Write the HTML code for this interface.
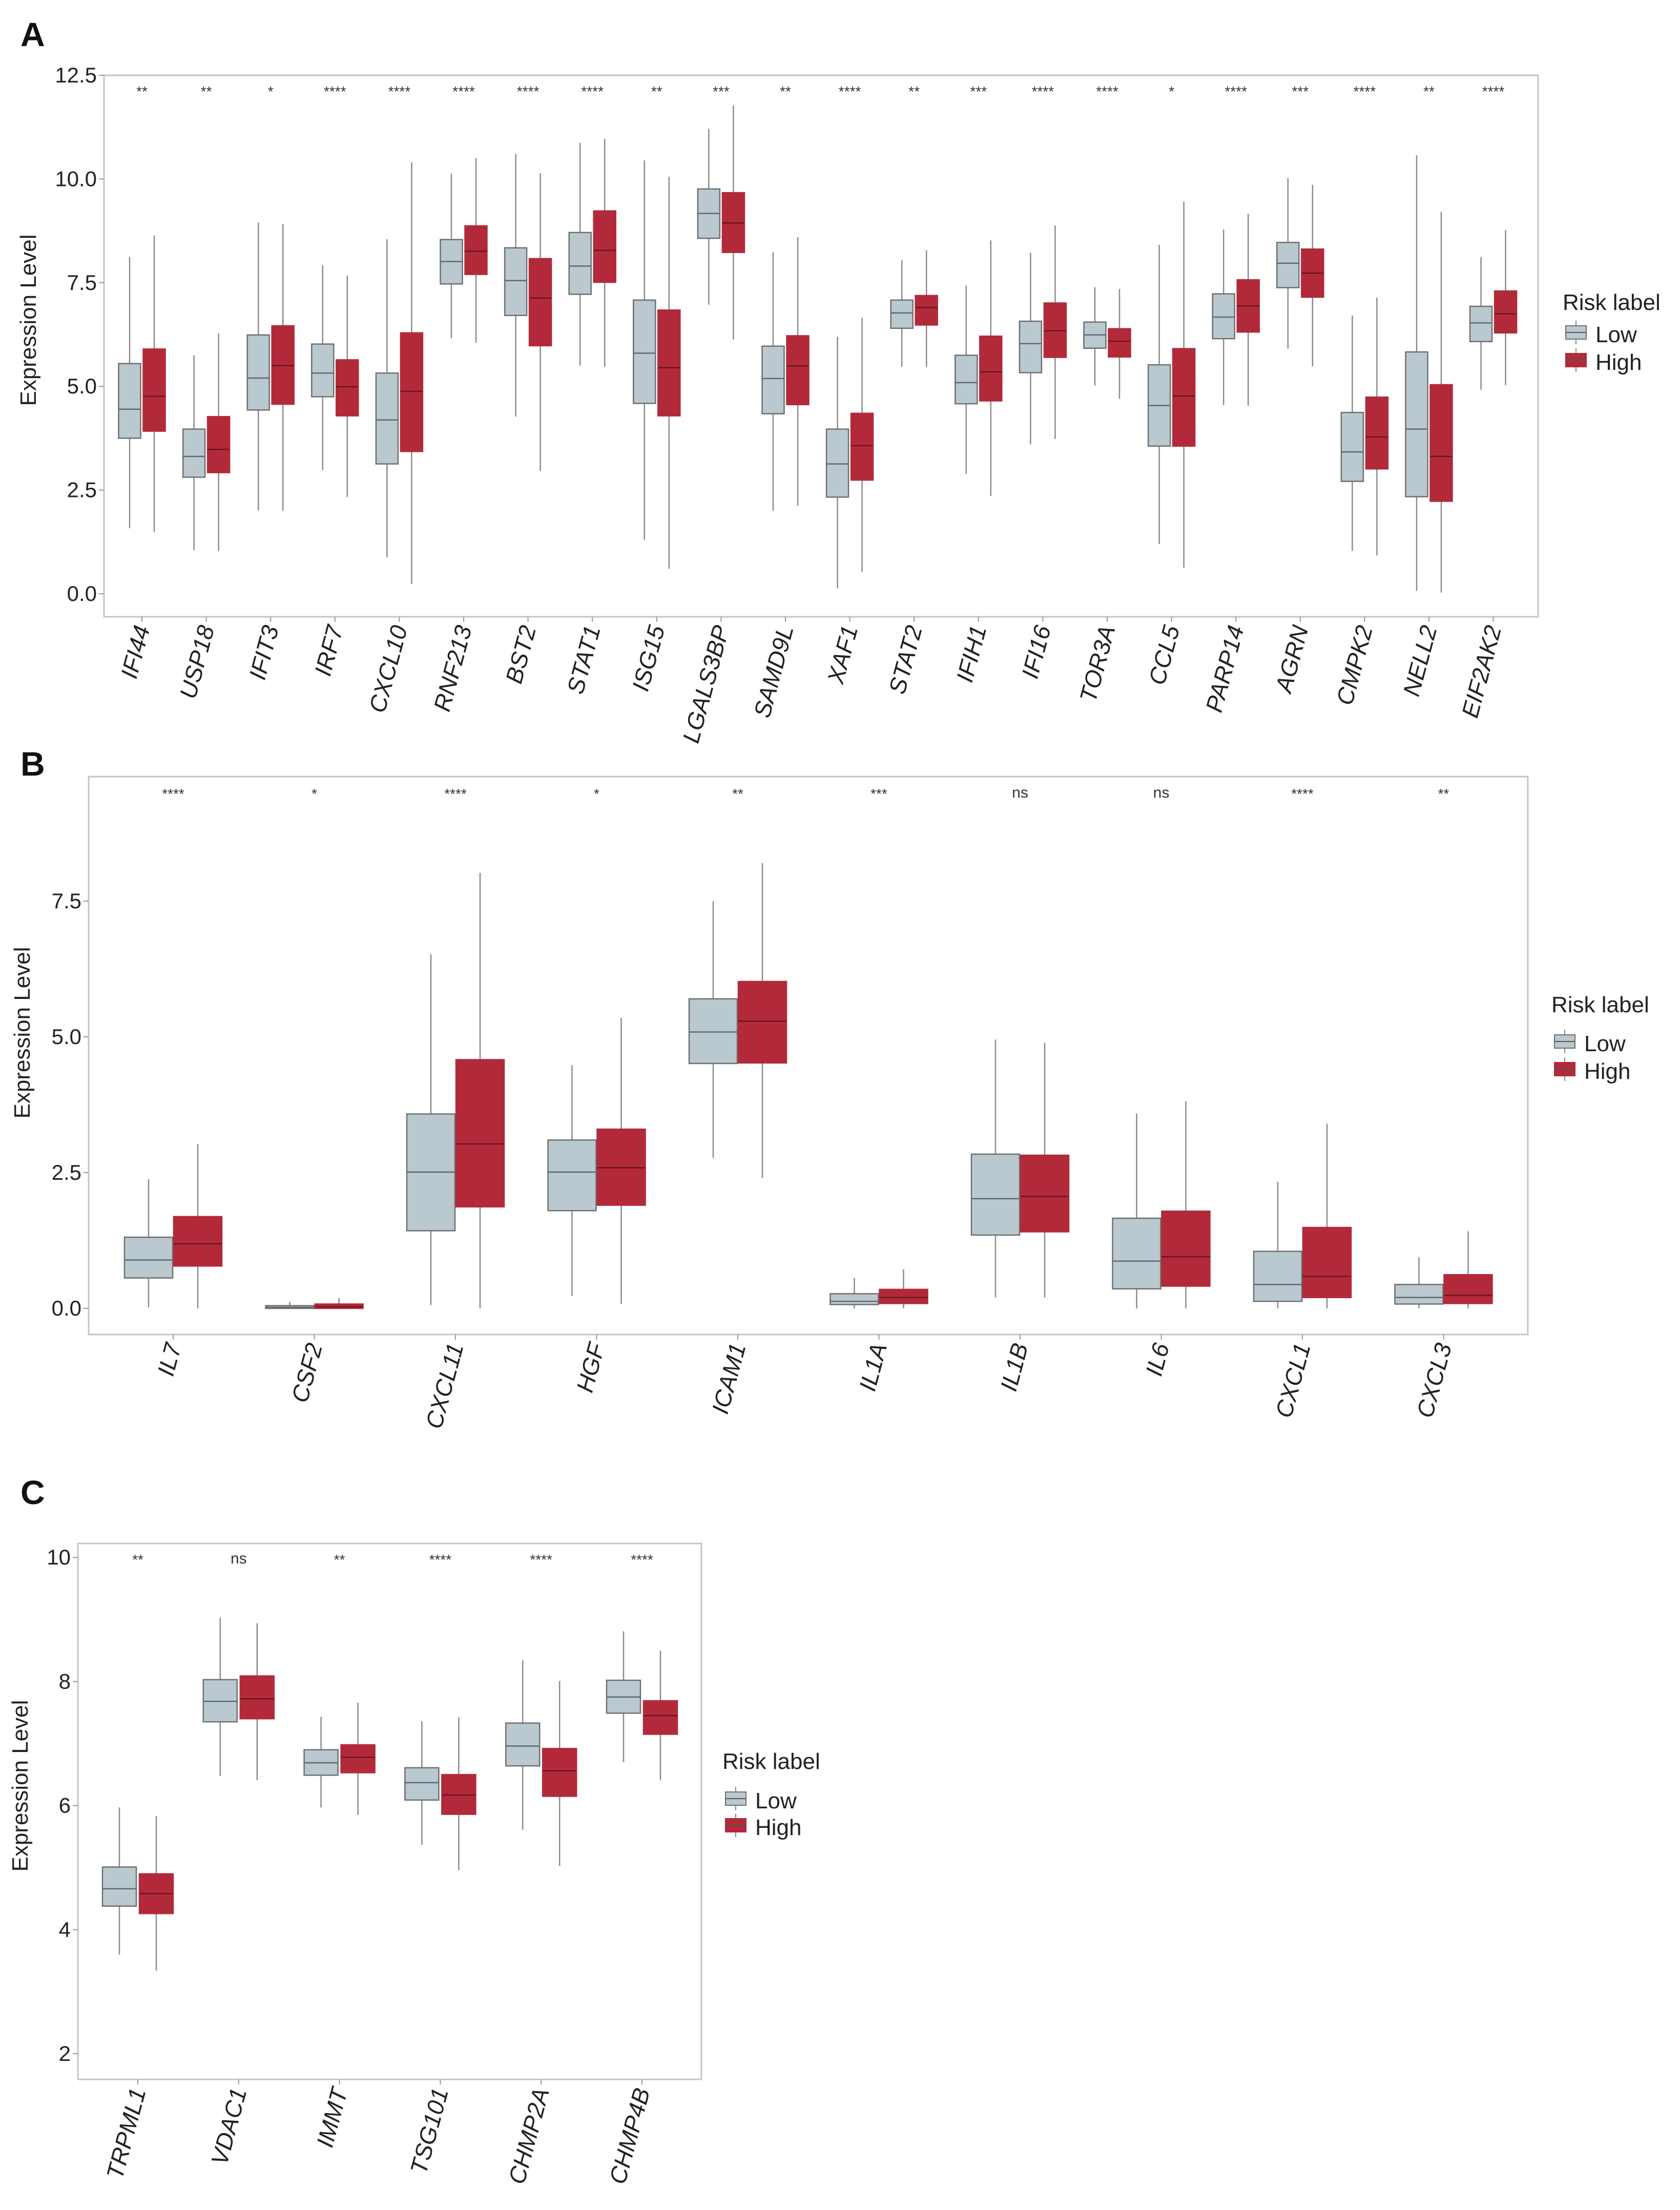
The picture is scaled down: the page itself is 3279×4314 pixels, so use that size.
<!DOCTYPE html>
<html><head><meta charset="utf-8"><style>
html,body{margin:0;padding:0;background:#fff;}
svg{display:block;font-family:"Liberation Sans",Arial,sans-serif;}
</style></head><body>
<svg id="fig" width="3279" height="4314" viewBox="0 0 3279 4314" xmlns="http://www.w3.org/2000/svg"></svg>
<script>
// ---------- Panel A data ----------
const catsA = ["IFI44","USP18","IFIT3","IRF7","CXCL10","RNF213","BST2","STAT1","ISG15","LGALS3BP","SAMD9L","XAF1","STAT2","IFIH1","IFI16","TOR3A","CCL5","PARP14","AGRN","CMPK2","NELL2","EIF2AK2"];
const sigA = ["**","**","*","****","****","****","****","****","**","***","**","****","**","***","****","****","*","****","***","****","**","****"];
// [whiskerLow, q1, median, q3, whiskerHigh]
const lowA = [[1.58,3.75,4.45,5.55,8.12],[1.05,2.81,3.31,3.97,5.75],[2.01,4.43,5.2,6.24,8.95],[2.98,4.75,5.32,6.02,7.92],[0.88,3.13,4.19,5.32,8.55],[6.16,7.47,8.01,8.54,10.13],[4.27,6.71,7.55,8.34,10.6],[5.5,7.22,7.9,8.71,10.87],[1.3,4.59,5.8,7.08,10.45],[6.97,8.57,9.17,9.76,11.21],[2.0,4.34,5.19,5.97,8.23],[0.13,2.33,3.13,3.97,6.2],[5.47,6.4,6.77,7.08,8.04],[2.89,4.58,5.09,5.75,7.43],[3.6,5.33,6.03,6.57,8.22],[5.02,5.92,6.24,6.55,7.39],[1.2,3.56,4.54,5.52,8.41],[4.55,6.15,6.67,7.23,8.78],[5.91,7.38,7.97,8.47,10.02],[1.03,2.71,3.42,4.37,6.71],[0.07,2.34,3.97,5.83,10.57],[4.92,6.08,6.53,6.93,8.12]];
const highA = [[1.49,3.92,4.76,5.9,8.64],[1.03,2.92,3.48,4.27,6.28],[2.0,4.57,5.5,6.46,8.92],[2.33,4.29,4.99,5.64,7.67],[0.24,3.43,4.88,6.29,10.4],[6.05,7.7,8.26,8.87,10.5],[2.96,5.98,7.13,8.08,10.14],[5.47,7.51,8.28,9.23,10.97],[0.6,4.29,5.45,6.84,10.05],[6.13,8.23,8.94,9.67,11.77],[2.12,4.56,5.49,6.22,8.6],[0.53,2.74,3.57,4.35,6.65],[5.47,6.48,6.9,7.19,8.28],[2.36,4.65,5.35,6.21,8.52],[3.73,5.7,6.34,7.01,8.88],[4.7,5.71,6.09,6.39,7.35],[0.63,3.56,4.77,5.91,9.45],[4.53,6.31,6.94,7.57,9.16],[5.48,7.15,7.73,8.31,9.86],[0.92,3.01,3.78,4.74,7.14],[0.03,2.23,3.31,5.04,9.21],[5.03,6.29,6.75,7.3,8.77]];
const ticksA = [0,2.5,5,7.5,10,12.5];
const tickLabelsA = ["0.0","2.5","5.0","7.5","10.0","12.5"];

// ---------- Panel B data ----------
const catsB = ["IL7","CSF2","CXCL11","HGF","ICAM1","IL1A","IL1B","IL6","CXCL1","CXCL3"];
const sigB = ["****","*","****","*","**","***","ns","ns","****","**"];
const lowB = [[0.02,0.56,0.89,1.31,2.38],[0,0,0.02,0.05,0.12],[0.06,1.43,2.51,3.58,6.52],[0.23,1.8,2.51,3.1,4.48],[2.77,4.51,5.09,5.7,7.5],[0,0.07,0.13,0.27,0.56],[0.2,1.35,2.02,2.84,4.95],[0,0.36,0.87,1.66,3.59],[0,0.13,0.44,1.05,2.33],[0,0.08,0.2,0.44,0.94]];
const highB = [[0,0.78,1.19,1.69,3.03],[0,0,0.03,0.08,0.19],[0,1.87,3.03,4.58,8.02],[0.08,1.9,2.59,3.3,5.35],[2.4,4.52,5.29,6.02,8.2],[0,0.09,0.2,0.35,0.72],[0.2,1.41,2.06,2.82,4.89],[0,0.41,0.95,1.79,3.81],[0,0.2,0.59,1.49,3.4],[0,0.09,0.24,0.62,1.42]];
const ticksB = [0,2.5,5,7.5];
const tickLabelsB = ["0.0","2.5","5.0","7.5"];

// ---------- Panel C data ----------
const catsC = ["TRPML1","VDAC1","IMMT","TSG101","CHMP2A","CHMP4B"];
const sigC = ["**","ns","**","****","****","****"];
const lowC = [[3.6,4.38,4.66,5.01,5.97],[6.48,7.35,7.68,8.03,9.03],[5.97,6.49,6.69,6.9,7.43],[5.37,6.09,6.37,6.61,7.36],[5.61,6.64,6.96,7.33,8.34],[6.7,7.49,7.75,8.02,8.81]];
const highC = [[3.34,4.26,4.58,4.9,5.83],[6.41,7.4,7.72,8.09,8.94],[5.85,6.53,6.78,6.98,7.66],[4.96,5.86,6.17,6.5,7.42],[5.03,6.15,6.56,6.92,8.01],[6.41,7.15,7.45,7.69,8.5]];
const ticksC = [2,4,6,8,10];
const tickLabelsC = ["2","4","6","8","10"];

const NS = "http://www.w3.org/2000/svg";
const svg = document.getElementById("fig");
const LOWC = "#bac8d0", HIGHC = "#b22a3a", EDGE = "#6f6f6f";

function mk(tag, attrs, parent){
  const e = document.createElementNS(NS, tag);
  for (const k in attrs) e.setAttribute(k, attrs[k]);
  (parent||svg).appendChild(e);
  return e;
}

function panel(cfg){
  const g = mk("g", {});
  
  
  const yS = v => cfg.y0px - (v - cfg.v0) * cfg.ppu;
  const xS = i => cfg.x0 + i * cfg.step;
  const fr = mk("rect", {x:cfg.L, y:cfg.T, width:cfg.R-cfg.L, height:cfg.B-cfg.T, fill:"none", stroke:"#c4c4c4", "stroke-width":3}, g);
  
  
  const pl = mk("text", {x:cfg.letterX, y:cfg.letterY, "font-size":66, "font-weight":"bold", fill:"#111"}, g);
  pl.textContent = cfg.letter;
  
  
  cfg.ticks.forEach((t, k) => {
    const y = yS(t);
    mk("line", {x1:cfg.L-10, x2:cfg.L, y1:y, y2:y, stroke:"#999", "stroke-width":2}, g);
    const tx = mk("text", {x:cfg.L-14, y:y+14, "font-size":cfg.tickFs, "text-anchor":"end", fill:"#222"}, g);
    tx.textContent = cfg.tickLabels[k];
    
    
  });
  const yt = mk("text", {x:0, y:0, "font-size":44, "text-anchor":"middle", fill:"#222", transform:`translate(${cfg.ytX},${cfg.ytY}) rotate(-90)`}, g);
  yt.textContent = "Expression Level";
  
  
  cfg.cats.forEach((c, i) => {
    const cx = xS(i);
    mk("line", {x1:cx, x2:cx, y1:cfg.B, y2:cfg.B+10, stroke:"#999", "stroke-width":2}, g);
    const lab = mk("text", {x:0, y:0, "font-size":cfg.xFs, "text-anchor":"end", "font-style":"italic", fill:"#222", transform:`translate(${cx+16},${cfg.B+22}) rotate(-75)`}, g);
    lab.textContent = c;
    
    
    const s = cfg.sig[i];
    const st = mk("text", {x:cx, y:s==="ns"?cfg.sigY+10:cfg.sigY+12, "font-size":s==="ns"?30:28, "text-anchor":"middle", fill:"#333"}, g);
    st.textContent = s;
    
    
    [[cfg.low[i], -cfg.off, LOWC, "low"], [cfg.high[i], cfg.off, HIGHC, "high"]].forEach(([d, o, col, nm]) => {
      const bx = cx + o;
      const wl = mk("line", {x1:bx, x2:bx, y1:yS(d[4]), y2:yS(d[0]), stroke:"#8a8a8a", "stroke-width":2.5}, g);
      
      
      const top = yS(d[3]), bot = yS(d[1]);
      const r = mk("rect", {x:bx-cfg.bw/2, y:top, width:cfg.bw, height:Math.max(bot-top,3), fill:col, stroke:nm==="low"?EDGE:HIGHC, "stroke-width":2.5}, g);
      
      
      const m = mk("line", {x1:bx-cfg.bw/2, x2:bx+cfg.bw/2, y1:yS(d[2]), y2:yS(d[2]), stroke:nm==="low"?"#5e6a70":"#6a1520", "stroke-width":2.5}, g);
      
      
    });
  });
  const lg = mk("g", {}, g);
  
  
  const lt = mk("text", {x:cfg.lgX, y:cfg.lgY, "font-size":44, fill:"#222"}, lg);
  lt.textContent = "Risk label";
  
  
  [["Low", LOWC, EDGE, cfg.lgLowY], ["High", HIGHC, HIGHC, cfg.lgHighY]].forEach(([txt, col, ed, y]) => {
    const ix = cfg.lgX + 6;
    mk("line", {x1:ix+20, x2:ix+20, y1:y-42, y2:y+4, stroke:"#888", "stroke-width":2}, lg);
    const sw = mk("rect", {x:ix, y:y-32, width:40, height:26, fill:col, stroke:ed, "stroke-width":2}, lg);
    
    
    mk("line", {x1:ix, x2:ix+40, y1:y-19, y2:y-19, stroke:"#555", "stroke-width":2}, lg);
    const tt = mk("text", {x:ix+58, y:y, "font-size":44, fill:"#222"}, lg);
    tt.textContent = txt;
    
    
  });
}

panel({name:"panel-a", letter:"A", letterX:40, letterY:90, L:203, R:3002, T:147, B:1204,
  y0px:1159, v0:0, ppu:80.96, x0:277, step:125.6, off:24, bw:43,
  cats:catsA, sig:sigA, low:lowA, high:highA, ticks:ticksA, tickLabels:tickLabelsA, tickFs:42, xFs:46,
  ytX:70, ytY:625, sigY:176, lgX:3050, lgY:605, lgLowY:668, lgHighY:722});

panel({name:"panel-b", letter:"B", letterX:40, letterY:1514, L:173, R:2982, T:1516, B:2605,
  y0px:2554, v0:0, ppu:106, x0:338, step:275.5, off:48, bw:94,
  cats:catsB, sig:sigB, low:lowB, high:highB, ticks:ticksB, tickLabels:tickLabelsB, tickFs:42, xFs:46,
  ytX:58, ytY:2016, sigY:1547, lgX:3028, lgY:1976, lgLowY:2052, lgHighY:2106});

panel({name:"panel-c", letter:"C", letterX:40, letterY:2936, L:152, R:1369, T:3013, B:4059,
  y0px:4009, v0:2, ppu:121.1, x0:269, step:196.8, off:36, bw:66,
  cats:catsC, sig:sigC, low:lowC, high:highC, ticks:ticksC, tickLabels:tickLabelsC, tickFs:42, xFs:46,
  ytX:54, ytY:3486, sigY:3042, lgX:1410, lgY:3453, lgLowY:3530, lgHighY:3582});
</script>
</body></html>
